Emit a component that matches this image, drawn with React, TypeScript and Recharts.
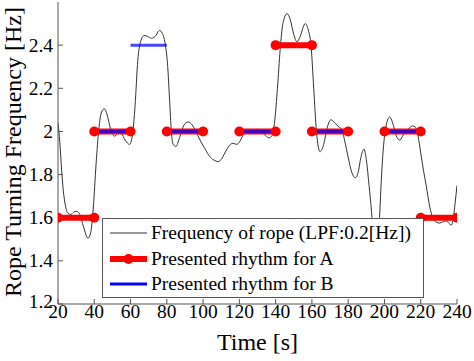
import { Label, Line, LineChart, XAxis, YAxis } from "recharts";

// rope turning frequency, low-pass filtered
const ropeTime = [
  20, 21, 22, 23, 24, 25.5, 27, 28.5, 30.3, 32, 34, 36.5, 38, 39.5, 41, 42.5, 44, 45.5, 47, 49,
  51.3, 53.5, 55, 57, 59.5, 61, 62.5, 64, 65.5, 67.5, 69.5, 71.5, 73.5, 76, 77.5, 79, 80.5, 81.5,
  82.5, 83.5, 85, 87, 89.5, 91.8, 94, 96, 98, 101, 104, 106.5, 108.3, 110, 112, 114.5, 116.5,
  118.5, 120, 122.5, 124.5, 127, 129.8, 132, 134.5, 136.3, 138, 139.5, 141, 142.5, 144, 146.3,
  148, 150, 151.8, 153.5, 156.3, 158, 159.5, 161, 162.5, 164.5, 166.5, 168.5, 170.5, 172.5, 175,
  176.5, 178, 180, 182, 184, 185.5, 187, 188.7, 190, 191.5, 192.8, 194, 195.2, 196.4, 197.4,
  198.3, 199.3, 201, 202.9, 204.5, 206.5, 208.4, 210.5, 213, 215.5, 217, 218.5, 220, 221.5, 223,
  225, 226.8, 228.5, 230.5, 232, 234.2, 236, 237, 238, 239, 240,
];
const ropeHz = [
  2.04, 1.95, 1.82, 1.72, 1.66, 1.62, 1.615, 1.625, 1.63, 1.615, 1.56, 1.505, 1.53, 1.65, 1.85,
  2.01, 2.09, 2.105, 2.08, 2.01, 1.978, 1.995, 1.99, 1.96, 1.94, 1.98, 2.12, 2.33, 2.415, 2.445,
  2.44, 2.432, 2.44, 2.468, 2.455, 2.41, 2.3, 2.15, 2.0, 1.94, 1.93, 1.97, 2.03, 2.044, 2.03, 2.0,
  1.965, 1.92, 1.88, 1.865, 1.86, 1.87, 1.9, 1.935, 1.945, 1.94, 1.95, 1.99, 2.0, 2.0, 2.01, 2.0,
  1.98, 1.97, 1.98, 2.05, 2.2, 2.38, 2.5, 2.546, 2.52, 2.45, 2.415, 2.44, 2.5, 2.47, 2.4, 2.2,
  2.0, 1.906, 1.94, 2.02, 2.054, 2.04, 2.02, 2.01, 1.96, 1.88, 1.81, 1.785, 1.81, 1.88, 1.918,
  1.87, 1.75, 1.635, 1.5, 1.44, 1.5, 1.62, 1.78, 1.913, 2.03, 2.067, 2.04, 1.98, 1.96, 1.985,
  2.01, 2.025, 2.02, 1.98, 1.9, 1.82, 1.75, 1.65, 1.595, 1.58, 1.575, 1.58, 1.585, 1.57, 1.566,
  1.6, 1.67, 1.75,
];

// presented rhythms (step segments)
const rhythmAFrom = [20, 40, 80, 120, 140, 160, 200, 220];
const rhythmATo = [40, 60, 100, 140, 160, 180, 220, 240];
const rhythmAHz = [1.6, 2, 2, 2, 2.4, 2, 2, 1.6];
const rhythmBFrom = [40, 60, 80, 120, 160, 200];
const rhythmBTo = [60, 80, 100, 140, 180, 220];
const rhythmBHz = [2, 2.4, 2, 2, 2, 2];

const xTicks = [20, 40, 60, 80, 100, 120, 140, 160, 180, 200, 220, 240];
const yTicks = [1.2, 1.4, 1.6, 1.8, 2, 2.2, 2.4];

const FONT = "'Liberation Serif', 'Times New Roman', serif";
const AXIS = "#555";

const ropeData = ropeTime.map((t, i) => ({ t, v: ropeHz[i] }));
const segA = rhythmAFrom.map((f, i) => [
  { t: f, v: rhythmAHz[i] },
  { t: rhythmATo[i], v: rhythmAHz[i] },
]);
const segB = rhythmBFrom.map((f, i) => [
  { t: f, v: rhythmBHz[i] },
  { t: rhythmBTo[i], v: rhythmBHz[i] },
]);

const fmt = (v: number) => String(Number(v.toFixed(1)));

function XTick(props: any) {
  const { x, y, payload } = props;
  return (
    <g>
      <line x1={x} x2={x} y1={y} y2={y - 5} stroke={AXIS} />
      <text x={x} y={y + 14} textAnchor="middle" fontSize={19.5} fontFamily={FONT} fill="#000">
        {fmt(payload.value)}
      </text>
    </g>
  );
}

function YTick(props: any) {
  const { x, y, payload } = props;
  // the lowest label sits a little higher, as in the figure
  const lift = payload.value === 1.2 ? 3 : 0;
  return (
    <g>
      <line x1={x} x2={x + 5} y1={y} y2={y} stroke={AXIS} />
      <text x={x - 5} y={y + 6.5 - lift} textAnchor="end" fontSize={19.5} fontFamily={FONT} fill="#000">
        {fmt(payload.value)}
      </text>
    </g>
  );
}

function RopeLegend() {
  return (
    <div
      style={{
        position: "absolute",
        left: 102,
        top: 218,
        width: 322,
        height: 80,
        boxSizing: "border-box",
        border: `1px solid ${AXIS}`,
        background: "#fff",
      }}
    >
      <svg width={320} height={78} style={{ display: "block" }}>
        <line x1={7} x2={44} y1={14} y2={14} stroke="#333" strokeWidth={1} />
        <line x1={7} x2={44} y1={40} y2={40} stroke="#ff0000" strokeWidth={6} />
        <circle cx={25.5} cy={40} r={5} fill="#ff0000" />
        <line x1={7} x2={44} y1={65} y2={65} stroke="#0000ff" strokeWidth={3} />
        <g fontSize={19.5} fontFamily={FONT} fill="#000">
          <text x={48} y={20}>Frequency of rope (LPF:0.2[Hz])</text>
          <text x={48} y={46}>Presented rhythm for A</text>
          <text x={48} y={71}>Presented rhythm for B</text>
        </g>
      </svg>
    </div>
  );
}

export default function App() {
  return (
    <div style={{ position: "absolute", left: 0, top: 0, width: 474, height: 361, background: "#fff" }}>
      <LineChart width={474} height={361} margin={{ top: 2, right: 17, bottom: 0, left: 0 }}>
        <XAxis
          dataKey="t"
          type="number"
          domain={[20, 240]}
          ticks={xTicks}
          allowDataOverflow
          height={57}
          stroke={AXIS}
          tickLine={false}
          tickSize={0}
          tickMargin={0}
          tick={<XTick />}
        >
          <Label
            content={() => (
              <text x={257.5} y={350} textAnchor="middle" fontSize={24} fontFamily={FONT} fill="#000">
                Time [s]
              </text>
            )}
          />
        </XAxis>
        <YAxis
          dataKey="v"
          type="number"
          domain={[1.2, 2.6]}
          ticks={yTicks}
          allowDataOverflow
          width={58}
          stroke={AXIS}
          tickLine={false}
          tickSize={0}
          tickMargin={0}
          tick={<YTick />}
        >
          <Label
            content={() => (
              <text
                x={21}
                y={152}
                transform="rotate(-90 21 152)"
                textAnchor="middle"
                fontSize={24}
                fontFamily={FONT}
                fill="#000"
              >
                Rope Turning Frequency [Hz]
              </text>
            )}
          />
        </YAxis>
        <Line
          data={ropeData}
          dataKey="v"
          type="monotone"
          stroke="#333"
          strokeWidth={1}
          dot={false}
          activeDot={false}
          isAnimationActive={false}
        />
        {segA.map((d, i) => (
          <Line
            key={`a${i}`}
            data={d}
            dataKey="v"
            stroke="#ff0000"
            strokeWidth={6}
            dot={{ r: 5, fill: "#ff0000", stroke: "none" }}
            activeDot={false}
            isAnimationActive={false}
          />
        ))}
        {segB.map((d, i) => (
          <Line
            key={`b${i}`}
            data={d}
            dataKey="v"
            stroke="#0000ff"
            strokeOpacity={0.72}
            strokeWidth={3}
            dot={false}
            activeDot={false}
            isAnimationActive={false}
          />
        ))}
      </LineChart>
      <RopeLegend />
    </div>
  );
}
